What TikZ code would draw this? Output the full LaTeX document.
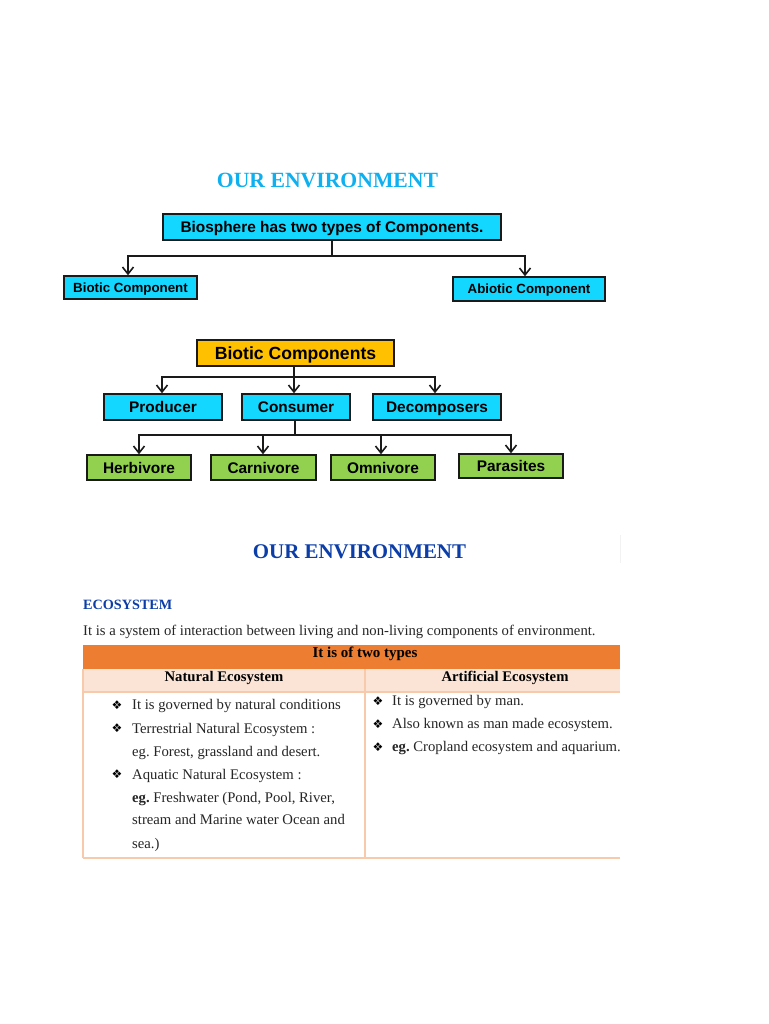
\documentclass[tikz,border=0pt]{standalone}
\usepackage{fontspec}
\setmainfont{Liberation Serif}
\newfontfamily\boxfont{Liberation Sans}
\newfontfamily\symfont{DejaVu Sans}
\usetikzlibrary{arrows.meta}
\definecolor{cyanbox}{HTML}{14D7FF}
\definecolor{goldbox}{HTML}{FFC000}
\definecolor{greenbox}{HTML}{92D050}
\definecolor{titlecyan}{HTML}{0FB0F0}
\definecolor{titleblue}{HTML}{0B3EA8}
\definecolor{orangehead}{HTML}{ED7D31}
\definecolor{peachhead}{HTML}{FBE4D5}
\definecolor{peachline}{HTML}{F7CAAC}
\definecolor{ink}{HTML}{1A1A1A}
\frenchspacing
\tikzset{
  x=1pt,y=-1pt,
  boxbase/.style={draw=ink,line width=1.4pt,inner sep=0pt,anchor=center,text depth=0pt},
  cyanb/.style={boxbase,fill=cyanbox},
  goldb/.style={boxbase,fill=goldbox},
  greenb/.style={boxbase,fill=greenbox},
  sans11/.style={text height=9.6pt,font=\boxfont\bfseries\fontsize{13.3}{15}\selectfont},
  sans13/.style={text height=11.1pt,font=\boxfont\bfseries\fontsize{15.4}{17}\selectfont},
  sans15/.style={text height=12.7pt,font=\boxfont\bfseries\fontsize{17.6}{19}\selectfont},
  conn/.style={draw=ink,line width=1.5pt},
  arr/.style={conn,-{Straight Barb[length=7pt,width=11pt,line width=1.6pt]}},
  maintitle/.style={inner sep=0pt,text height=14.6pt,text depth=0pt},
  bodytext/.style={font=\fontsize{14.7}{16}\selectfont,anchor=west,inner sep=0pt,text=black!85,text height=9.7pt,text depth=0pt},
  headtext/.style={font=\fontsize{14.7}{16}\selectfont\bfseries,inner sep=0pt,text=black,text height=9.7pt,text depth=0pt},
  bulletmark/.style={font=\symfont\fontsize{12}{14}\selectfont,inner sep=0pt,text=black}
}
\begin{document}
\begin{tikzpicture}
\useasboundingbox (0,0) rectangle (768,1024);
\fill[white] (0,0) rectangle (768,1024);
% first chart
\node[maintitle,text=titlecyan,font=\fontsize{21.7}{24}\selectfont\bfseries] (t1) at (327.5,180) {OUR ENVIRONMENT};
\node[cyanb,sans13,minimum width=338pt,minimum height=26pt] (bio) at (332,227) {Biosphere has two types of Components.};
\node[cyanb,sans11,minimum width=133pt,minimum height=23pt] (biotic) at (130.5,287.5) {Biotic Component};
\node[cyanb,sans11,minimum width=152pt,minimum height=24pt] (abiotic) at (529,289) {Abiotic Component};
\coordinate (j1) at (332,256);
\draw[conn] (bio.south) -- (j1);
\draw[arr] (j1) -| ([xshift=-2.5pt]biotic.north);
\draw[arr] (j1) -| ([xshift=-4pt]abiotic.north);
% second chart
\node[goldb,sans15,minimum width=197pt,minimum height=26pt] (bc) at (295.5,353) {Biotic Components};
\node[cyanb,sans13,minimum width=118pt,minimum height=26pt] (prod) at (163,407) {Producer};
\node[cyanb,sans13,minimum width=108pt,minimum height=26pt] (cons) at (296,407) {Consumer};
\node[cyanb,sans13,minimum width=128pt,minimum height=26pt] (deco) at (437,407) {Decomposers};
\node[greenb,sans13,minimum width=104pt,minimum height=25pt] (herb) at (139,467.5) {Herbivore};
\node[greenb,sans13,minimum width=105pt,minimum height=25pt] (carn) at (263.5,467.5) {Carnivore};
\node[greenb,sans13,minimum width=104pt,minimum height=25pt] (omni) at (383,467.5) {Omnivore};
\node[greenb,sans13,minimum width=104pt,minimum height=24pt] (para) at (511,466) {Parasites};
\coordinate (j2) at (294,377);
\coordinate (j3) at (295,435);
\draw[arr] (bc.south -| j2) -- (cons.north -| j2);
\draw[arr] (j2) -| ([xshift=-1pt]prod.north);
\draw[arr] (j2) -| ([xshift=-2pt]deco.north);
\draw[conn] (cons.south -| j3) -- (j3);
\draw[arr] (j3) -| (herb.north);
\draw[arr] (j3) -| ([xshift=-0.5pt]carn.north);
\draw[arr] (j3) -| ([xshift=-2pt]omni.north);
\draw[arr] (j3) -| (para.north);
% second section
\node[maintitle,text=titleblue,font=\fontsize{20.9}{23}\selectfont\bfseries] (t2) at (359.5,551) {OUR ENVIRONMENT};
\draw[black!5,line width=1pt] (620,535) -- (620,563);
\node[font=\fontsize{14.2}{16}\selectfont\bfseries,text=titleblue,anchor=west,inner sep=0pt,text height=9.6pt,text depth=0pt] (eco) at (83,605) {ECOSYSTEM};
\node[bodytext] (def) at (83,630.5) {It is a system of interaction between living and non-living components of environment.};
% table
\fill[orangehead] (83,645) rectangle (620,669);
\fill[peachhead] (83,669) rectangle (620,692);
\draw[peachline,line width=1.3pt] (83,692) -- (620,692);
\draw[peachline,line width=1.3pt] (83,858) -- (620,858);
\draw[peachline,line width=1.3pt] (83,669) -- (83,858);
\draw[peachline,line width=1.3pt] (365,669) -- (365,858);
\node[headtext,font=\fontsize{15}{17}\selectfont\bfseries] (h0) at (365,653) {It is of two types};
\node[headtext] (h1) at (224,677) {Natural Ecosystem};
\node[headtext] (h2) at (505,677) {Artificial Ecosystem};
% left column
\node[bulletmark] (bl1) at (117,705) {❖};
\node[bodytext] (l1) at (132,705) {It is governed by natural conditions};
\node[bulletmark] (bl2) at (117,728) {❖};
\node[bodytext] (l2) at (132,728.5) {Terrestrial Natural Ecosystem :};
\node[bodytext] (l3) at (132,751.5) {eg. Forest, grassland and desert.};
\node[bulletmark] (bl4) at (117,774) {❖};
\node[bodytext] (l4) at (132,774.5) {Aquatic Natural Ecosystem :};
\node[bodytext] (l5) at (132,798) {\textbf{eg.} Freshwater (Pond, Pool, River,};
\node[bodytext] (l6) at (132,820) {stream and Marine water Ocean and};
\node[bodytext] (l7) at (132,844) {sea.)};
% right column
\node[bulletmark] (br1) at (378,701) {❖};
\node[bodytext] (r1) at (392,701) {It is governed by man.};
\node[bulletmark] (br2) at (378,724) {❖};
\node[bodytext] (r2) at (392,724) {Also known as man made ecosystem.};
\node[bulletmark] (br3) at (378,747) {❖};
\node[bodytext] (r3) at (392,747) {\textbf{eg.} Cropland ecosystem and aquarium.};
\end{tikzpicture}
\end{document}
